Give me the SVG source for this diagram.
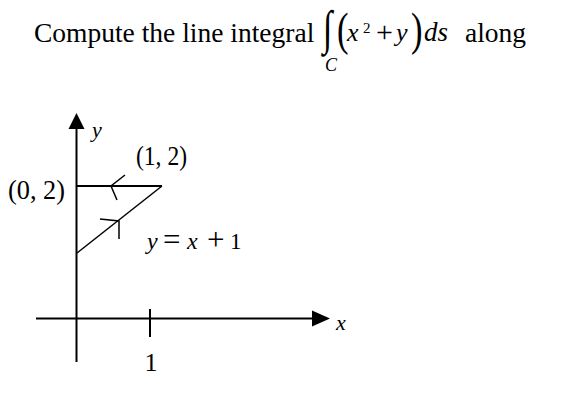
<svg xmlns="http://www.w3.org/2000/svg" width="567" height="419" viewBox="0 0 567 419">
<style>
text{font-family:"Liberation Serif","Times New Roman",serif;fill:#000}
.it{font-style:italic}
.ln{stroke:#000;fill:none;stroke-linecap:butt}
</style>
<rect width="567" height="419" fill="#fff"/>
<g id="title">
<text x="34" y="42" font-size="27.5">Compute the line integral</text>
<text transform="translate(323,44) scale(0.72,1)" font-size="48">∫</text>
<text transform="translate(337,45) scale(0.75,1)" font-size="46">(</text>
<text class="it" x="347" y="41" font-size="26">x</text>
<text x="363" y="33" font-size="15">2</text>
<text x="376" y="42" font-size="30">+</text>
<text class="it" x="396" y="41" font-size="26">y</text>
<text transform="translate(411,45) scale(0.75,1)" font-size="46">)</text>
<text class="it" x="424" y="41" font-size="27">ds</text>
<text x="465" y="42" font-size="27.5">along</text>
<text class="it" x="325" y="71" font-size="18">C</text>
</g>
<g id="axes">
<line class="ln" x1="76.5" y1="362" x2="76.5" y2="127" stroke-width="2"/>
<polygon points="76.5,113 68.5,129 84.5,129" fill="#000"/>
<line class="ln" x1="36" y1="318.5" x2="314" y2="318.5" stroke-width="2"/>
<polygon points="330,318.5 312,310.5 312,326.5" fill="#000"/>
<line class="ln" x1="150" y1="309" x2="150" y2="337" stroke-width="2"/>
<text class="it" x="92" y="137" font-size="22">y</text>
<text class="it" x="336" y="330" font-size="22">x</text>
<text x="151" y="371" font-size="26" text-anchor="middle">1</text>
</g>
<g id="connectors">
<line class="ln" x1="77" y1="186" x2="162" y2="186" stroke-width="2"/>
<line class="ln" x1="77" y1="253" x2="162" y2="186" stroke-width="1.5"/>
<polyline class="ln" points="125,175 111,186 117,200" stroke-width="1.5"/>
<polyline class="ln" points="100,219 119,221 119,239" stroke-width="1.5"/>
</g>
<g id="labels">
<text x="8" y="199" font-size="28" textLength="57" lengthAdjust="spacingAndGlyphs">(0, 2)</text>
<text x="136" y="165" font-size="27" textLength="51" lengthAdjust="spacingAndGlyphs">(1, 2)</text>
<text class="it" x="147" y="249" font-size="24">y</text>
<text x="163" y="250" font-size="31">=</text>
<text class="it" x="187" y="249" font-size="24">x</text>
<text x="207" y="250" font-size="31">+</text>
<text x="230" y="249" font-size="23">1</text>
</g>
</svg>
